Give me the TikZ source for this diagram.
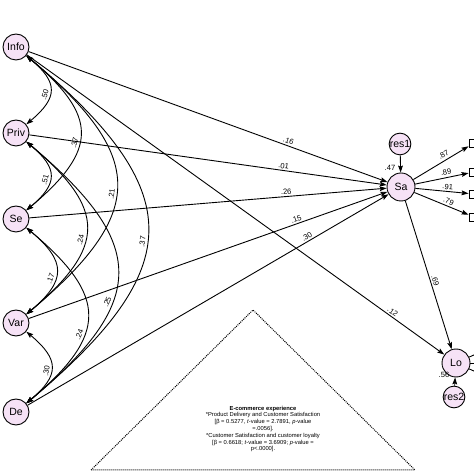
\documentclass[tikz,border=0pt]{standalone}
\usepackage{fontspec}
\setmainfont{Liberation Sans}
\usetikzlibrary{arrows.meta}
\tikzset{>={Stealth[length=7pt,width=4.8pt,inset=1.2pt]}}
\definecolor{latentpink}{RGB}{246,226,246}
\tikzset{
  latent/.style={circle,draw,line width=0.9pt,fill=latentpink,minimum size=26pt,inner sep=0pt,font=\fontsize{10.5}{11}\selectfont},
  resid/.style={latent,minimum size=21pt},
  obsbox/.style={rectangle,draw,line width=0.9pt,minimum width=10pt,minimum height=8pt,inner sep=0pt},
  coef/.style={font=\fontsize{7.6}{8.5}\selectfont,inner sep=1.5pt},
  regline/.style={->,line width=0.9pt},
  cov/.style={<->,line width=0.9pt,looseness=1.56}
}

\begin{document}
\begin{tikzpicture}[x=1pt,y=1pt]
\useasboundingbox (0,0) rectangle (474,474);
% exogenous
\node[latent] (Info) at (16,427) {Info};
\node[latent] (Priv) at (16,341) {Priv};
\node[latent] (Se) at (16,255) {Se};
\node[latent] (Var) at (16,151) {Var};
\node[latent] (De) at (16,62) {De};
% endogenous
\node[latent,minimum size=28pt] (Sa) at (401,287) {Sa};
\node[resid] (res1) at (400,330) {res1};
\node[latent,minimum size=28pt] (Lo) at (456,111) {Lo};
\node[resid] (res2) at (454,77) {res2};
\node[coef] (saR2) at (390,306) {.47};
\node[coef] (loR2) at (444,99) {.56};
% indicators of Sa
\node[obsbox] (sa1) at (474,331) {};
\node[obsbox] (sa2) at (474,302) {};
\node[obsbox] (sa3) at (474,280) {};
\node[obsbox] (sa4) at (474,257) {};
\coordinate (lo1) at (485,124);
\coordinate (lo2) at (488,111);
\coordinate (lo3) at (485,98);

% covariances
\draw[cov] (Priv) to[out=40,in=-40] node[coef,pos=0.4,sloped,above] {.50} (Info);
\draw[cov] (Se) to[out=40,in=-40] node[coef,pos=0.42,sloped,above] {.37} (Info);
\draw[cov] (Var) to[out=40,in=-40] node[coef,pos=0.46,sloped,above] {.21} (Info);
\draw[cov] (De) to[out=40,in=-40] node[coef,pos=0.46,sloped,above] {.37} (Info);
\draw[cov] (Se) to[out=40,in=-40] node[coef,pos=0.42,sloped,above] {.51} (Priv);
\draw[cov] (Var) to[out=40,in=-40] node[coef,pos=0.42,sloped,above] {.24} (Priv);
\draw[cov] (De) to[out=40,in=-40] node[coef,pos=0.37,sloped,above] {.25} (Priv);
\draw[cov] (Var) to[out=40,in=-40] node[coef,pos=0.38,sloped,above] {.17} (Se);
\draw[cov] (De) to[out=40,in=-40] node[coef,pos=0.37,sloped,above] {.24} (Se);
\draw[cov] (De) to[out=40,in=-40] node[coef,pos=0.44,sloped,above] {.30} (Var);

% regressions
\draw[regline] (Info) -- node[coef,pos=0.72,sloped,above] {.16} (Sa);
\draw[regline] (Priv) -- node[coef,pos=0.71,sloped,above] {.01} (Sa);
\draw[regline] (Se) -- node[coef,pos=0.72,sloped,above] {.26} (Sa);
\draw[regline] (Var) -- node[coef,pos=0.75,sloped,above] {.15} (Sa);
\draw[regline] (De) -- node[coef,pos=0.78,sloped,above] {.30} (Sa);
\draw[regline] (Info) -- node[coef,pos=0.87,sloped,above] {.12} (Lo);
\draw[regline] (Sa) -- node[coef,pos=0.55,sloped,above] {.69} (Lo);
\draw[regline] (res1) -- (Sa);
\draw[regline] (res2) -- (Lo);
\draw[regline] (Sa) -- node[coef,pos=0.6,sloped,above=1pt] {.87} (sa1);
\draw[regline] (Sa) -- node[coef,pos=0.6,sloped,above=1pt] {.89} (sa2);
\draw[regline] (Sa) -- node[coef,pos=0.6,sloped,above] {.91} (sa3);
\draw[regline] (Sa) -- node[coef,pos=0.6,sloped,above] {.79} (sa4);
\draw[regline] (Lo) -- (lo1);
\draw[regline] (Lo) -- (lo2);
\draw[regline] (Lo) -- (lo3);

% note
\draw[densely dotted,line width=1pt] (91,4) -- (253,164) -- (415,4) -- cycle;
\node[align=center,font=\fontsize{5.8}{6.8}\selectfont] (note) at (263,45)
  {\textbf{E-commerce experience}\\
   *Product Delivery and Customer Satisfaction\\
   {[}β = 0.5277, \textit{t}-value = 2.7891, \textit{p}-value\\
   =.0056].\\
   *Customer Satisfaction and customer loyalty\\
   {[}β = 0.6618; \textit{t}-value = 3.6909; \textit{p}-value =\\
   p<.0000].};
\end{tikzpicture}
\end{document}
